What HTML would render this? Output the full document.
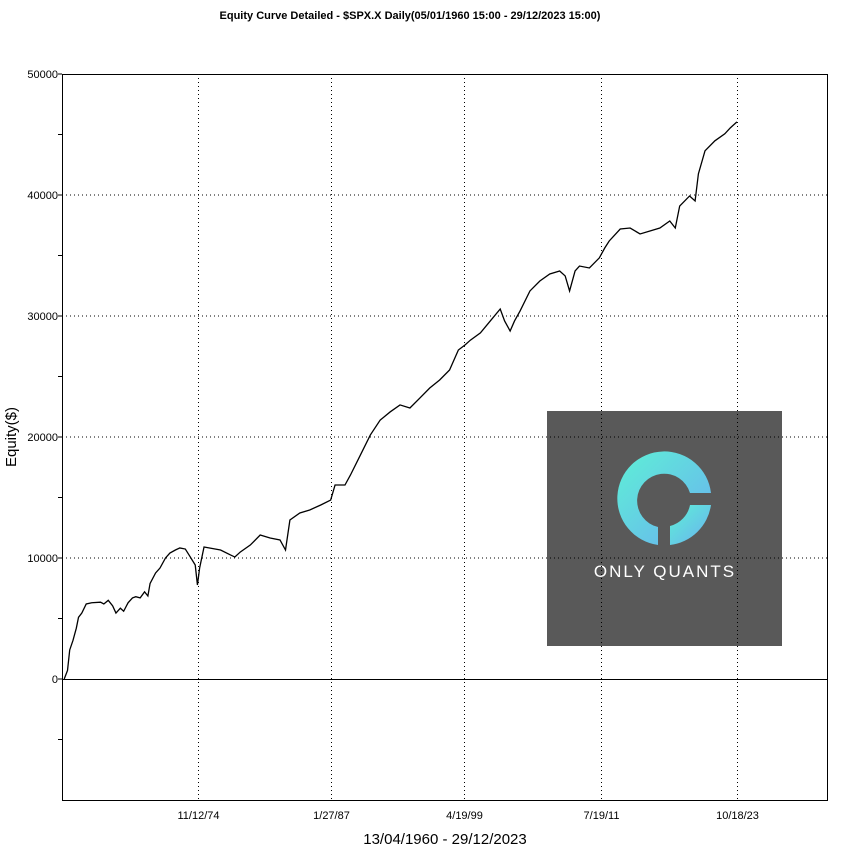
<!DOCTYPE html>
<html><head><meta charset="utf-8"><style>
body{margin:0;background:#fff;font-family:"Liberation Sans",sans-serif;}
svg text{font-family:"Liberation Sans",sans-serif;}
</style></head><body>
<svg id="c" width="849" height="855" xmlns="http://www.w3.org/2000/svg">
<text x="410" y="19" font-size="11" font-weight="bold" text-anchor="middle">Equity Curve Detailed - $SPX.X Daily(05/01/1960 15:00 - 29/12/2023 15:00)</text>
<g id="overlay">
<rect x="547" y="411" width="235" height="235" fill="#595959"/>
<defs><linearGradient id="lg" x1="0" y1="0" x2="1" y2="1"><stop offset="0" stop-color="#5ef0d6"/><stop offset="1" stop-color="#6ab0f0"/></linearGradient></defs>
<path d="M711,493 A47,47 0 1,0 658,545 L658,527 A27,27 0 1,1 690,493 Z" fill="url(#lg)"/>
<path d="M711,505 A47,47 0 0,1 670,545 L670,526 A27,27 0 0,0 690,505 Z" fill="url(#lg)"/>
<text x="665" y="577" font-size="17" fill="#fff" text-anchor="middle" letter-spacing="2">ONLY QUANTS</text>
</g>
<g id="grid"></g><g id="axes"></g><g id="series"></g>
<text x="445" y="844" font-size="15" text-anchor="middle">13/04/1960 - 29/12/2023</text>
<text transform="translate(16,437) rotate(-90)" font-size="15" text-anchor="middle">Equity($)</text>
</svg>
<script>
const years=[1962.7,1963.0,1963.2,1963.5,1963.8,1964.0,1964.3,1964.7,1965.2,1966.0,1966.3,1966.7,1967.1,1967.4,1967.8,1968.1,1968.5,1968.9,1969.2,1969.6,1970.0,1970.3,1970.5,1971.0,1971.4,1971.9,1972.3,1972.8,1973.2,1973.7,1974.1,1974.6,1974.8,1975.0,1975.4,1975.9,1976.9,1977.8,1978.2,1978.7,1979.6,1980.5,1981.4,1982.3,1982.8,1983.2,1984.1,1985.0,1986.0,1986.9,1987.3,1988.2,1988.7,1989.6,1990.5,1991.4,1992.3,1993.2,1994.1,1995.0,1995.9,1996.8,1997.7,1998.5,1999.1,1999.6,2000.5,2001.4,2002.3,2002.7,2003.2,2003.6,2004.1,2005.0,2005.9,2006.8,2007.7,2008.2,2008.6,2009.1,2009.5,2010.4,2011.3,2011.8,2012.2,2013.2,2014.1,2015.0,2015.9,2016.8,2017.7,2018.2,2018.6,2019.5,2020.0,2020.3,2020.9,2021.8,2022.7,2023.2,2023.8];
const equity=[0,700,2400,3200,4200,5100,5450,6200,6300,6350,6200,6500,6050,5450,5850,5600,6300,6700,6800,6700,7200,6860,7900,8760,9170,10000,10410,10660,10830,10740,10160,9420,7770,9170,10910,10830,10660,10250,10080,10500,11070,11900,11650,11490,10660,13140,13720,13970,14380,14790,16030,16030,16860,18510,20160,21400,22070,22650,22400,23220,24050,24710,25540,27190,27600,28010,28600,29590,30580,29590,28760,29590,30410,32070,32890,33470,33720,33310,32070,33720,34130,33970,34800,35630,36200,37190,37270,36780,37020,37270,37850,37270,39090,39920,39510,41750,43650,44480,45060,45550,46040];
const yTicks=[0,10000,20000,30000,40000,50000];
const xTickYears=[1974.86,1986.94,1999.02,2011.46,2023.8];
const xTickLabels=["11/12/74","1/27/87","4/19/99","7/19/11","10/18/23"];
const L=62,R=827,T=74,B=800,ymin=-10000,ymax=50000,x0=1962.5,x1=2031.98;
const sx=v=>L+(v-x0)/(x1-x0)*(R-L), sy=v=>B-(v-ymin)/(ymax-ymin)*(B-T);
const NS="http://www.w3.org/2000/svg";
function mk(tag,attrs,parent){const e=document.createElementNS(NS,tag);for(const k in attrs)e.setAttribute(k,attrs[k]);document.getElementById(parent).appendChild(e);return e;}
yTicks.forEach(v=>{const y=sy(v);
 if(v>0&&v<50000){const g=mk('line',{x1:L,x2:R,y1:y,y2:y,stroke:'#000','stroke-dasharray':'1,3'},'grid');
 
 }
 const t=mk('text',{x:L-4,y:y+4,'font-size':11,'text-anchor':'end'},'axes');t.textContent=v;
 
 
 mk('line',{x1:L-4,x2:L,y1:y,y2:y,stroke:'#000'},'axes');
});
for(let v=-5000;v<50000;v+=10000){const y=sy(v);mk('line',{x1:L-4,x2:L,y1:y,y2:y,stroke:'#000'},'axes');}
xTickYears.forEach((v,i)=>{const x=Math.round(sx(v))+0.5;
 const g=mk('line',{x1:x,x2:x,y1:T,y2:B,stroke:'#000','stroke-dasharray':'1,3'},'grid');
 
 
 const t=mk('text',{x:x,y:B+19,'font-size':11,'text-anchor':'middle'},'axes');t.textContent=xTickLabels[i];
 
 
});
const z=mk('line',{x1:L,x2:R,y1:sy(0)+0.5,y2:sy(0)+0.5,stroke:'#000'},'axes');


const f=mk('rect',{x:L+0.5,y:T+0.5,width:R-L,height:B-T,fill:'none',stroke:'#000'},'axes');


const p=mk('polyline',{points:years.map((y,i)=>sx(y)+','+sy(equity[i])).join(' '),fill:'none',stroke:'#000','stroke-width':1.3},'series');


</script>
</body></html>
